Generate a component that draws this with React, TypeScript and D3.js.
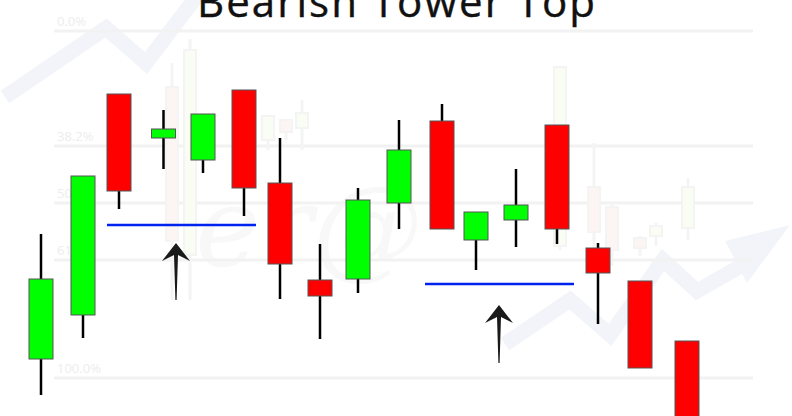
import React from "react";
import * as d3 from "d3";

const W = 792;
const H = 416;

// Candles: session position, open, high, low, close (price units)
const sessions = [41, 83, 119, 163.5, 203, 244, 280, 320, 358, 399, 442, 476, 516, 557, 598, 640, 687];
const opens = [57, 101, 322, 278, 256, 326, 233, 136, 137, 213, 295, 176, 196, 291, 168, 135, 75];
const highs = [182, 240, 322, 306, 302, 326, 278, 172, 228, 296, 312, 204, 247, 291, 173, 135, 75];
const lows = [21, 78, 207, 247, 243, 200, 117, 77, 123, 187, 187, 146, 169, 172, 92, 48, -10];
const closes = [137, 240, 225, 287, 302, 228, 152, 120, 216, 266, 187, 204, 211, 187, 143, 48, -10];

// Support levels (blue)
const levelPrices = [191, 132];
const levelFrom = [2, 10];
const levelTo = [5, 13];
const levelPad = [0, 5];

// Arrows
const arrowSessions = [176, 499];
const arrowTips = [173, 111];
const arrowTails = [116, 53];

// Watermark fib levels
const fibLabels = ["0.0%", "38.2%", "50%", "61.8%", "100.0%"];
const fibPrices = [385, 270, 213, 156, 38];

// Faint watermark candles
const wmSessions = [172, 190, 268, 286, 302, 560, 594, 612, 640, 656, 688];
const wmOpen = [329, 161, 276, 296, 288, 170, 229, 209, 178, 180, 188];
const wmClose = [175, 366, 300, 284, 303, 349, 184, 166, 168, 190, 229];
const wmHigh = [353, 377, 300, 296, 316, 349, 273, 213, 180, 193, 238];
const wmLow = [116, 116, 266, 276, 266, 166, 166, 150, 160, 170, 176];

const title = "Bearish Tower Top";

export default function App() {
  const x = d3.scaleLinear().domain([0, W]).range([0, W]);
  const y = d3.scaleLinear().domain([0, H]).range([H, 0]);
  const bw = 24;

  const candles = sessions.map((s, i) => ({
    s,
    o: opens[i],
    h: highs[i],
    l: lows[i],
    c: closes[i],
  }));

  const wm = wmSessions.map((s, i) => ({ s, o: wmOpen[i], c: wmClose[i], h: wmHigh[i], l: wmLow[i] }));

  const line = d3.line<[number, number]>().x((d) => d[0]).y((d) => d[1]);

  const zig1: [number, number][] = [
    [5, 97],
    [106, 28],
    [146, 63],
    [200, -8],
  ];
  const zig2: [number, number][] = [
    [505, 344],
    [570, 300],
    [610, 335],
    [663, 260],
    [697, 291],
    [748, 262],
  ];

  return (
    <div style={{ position: "absolute", left: 0, top: 0, width: W, height: H }}>
      <svg width={W} height={H} style={{ display: "block", background: "#fff" }}>
        {/* watermark */}
        <g>
          <path d={line(zig1) || ""} fill="none" stroke="#f2f4f9" strokeWidth={15} strokeLinejoin="miter" />
          <path d={line(zig2) || ""} fill="none" stroke="#f2f4f9" strokeWidth={15} strokeLinejoin="miter" />
          <path d="M725,241 L790,225 L747,283 Z" fill="#f2f4f9" />
          <text x={195} y={265} fontFamily="DejaVu Serif" fontStyle="italic" fontSize={110} fill="#f8f8f8">
            er@
          </text>
          {fibPrices.map((p, i) => (
            <g key={i}>
              <line x1={54} x2={753} y1={y(p)} y2={y(p)} stroke="#f2f2f2" strokeWidth={3} />
              <text x={57} y={y(p) - 5} fontFamily="Open Sans" fontSize={13} fill="#ededed">
                {fibLabels[i]}
              </text>
            </g>
          ))}
          {wm.map((d, i) => {
            const up = d.c >= d.o;
            return (
              <g key={i}>
                <line x1={x(d.s)} x2={x(d.s)} y1={y(d.h)} y2={y(d.l)} stroke="#f4f4f4" strokeWidth={3} />
                <rect
                  x={x(d.s) - 6}
                  y={y(Math.max(d.o, d.c))}
                  width={12}
                  height={Math.abs(y(d.o) - y(d.c))}
                  fill={up ? "#f9fdf4" : "#fdf4f4"}
                  stroke="#f4f4f4"
                  strokeWidth={2}
                />
              </g>
            );
          })}
        </g>

        {/* title */}
        <text
          x={396}
          y={17}
          textAnchor="middle"
          fontFamily="Open Sans"
          fontSize={42}
          fill="#111"
          stroke="#111"
          strokeWidth={0.4}
          textLength={398}
        >
          {title}
        </text>

        {/* candles */}
        {candles.map((d, i) => {
          const up = d.c >= d.o;
          const top = y(Math.max(d.o, d.c));
          const bot = y(Math.min(d.o, d.c));
          return (
            <g key={i}>
              <line x1={x(d.s)} x2={x(d.s)} y1={y(d.h)} y2={y(d.l)} stroke="#000" strokeWidth={2.5} />
              <rect
                x={x(d.s) - bw / 2}
                y={top}
                width={bw}
                height={bot - top}
                fill={up ? "#00ff00" : "#ff0000"}
                stroke="#555"
                strokeWidth={1}
              />
            </g>
          );
        })}

        {/* support levels */}
        {levelPrices.map((p, i) => (
          <line
            key={i}
            x1={x(sessions[levelFrom[i]]) - bw / 2 - levelPad[i]}
            x2={x(sessions[levelTo[i]]) + bw / 2 + levelPad[i]}
            y1={y(p)}
            y2={y(p)}
            stroke="#0022ee"
            strokeWidth={2.5}
          />
        ))}

        {/* arrows */}
        {arrowSessions.map((s, i) => {
          const cx = x(s);
          const ty = y(arrowTips[i]);
          const by = y(arrowTails[i]);
          const head = `M${cx},${ty} L${cx + 14},${ty + 18} L${cx + 2},${ty + 12} L${cx + 0.6},${by} L${cx - 0.6},${by} L${cx - 2},${ty + 12} L${cx - 14},${ty + 18} Z`;
          return <path key={i} d={head} fill="#1a1a1a" />;
        })}
      </svg>
    </div>
  );
}
